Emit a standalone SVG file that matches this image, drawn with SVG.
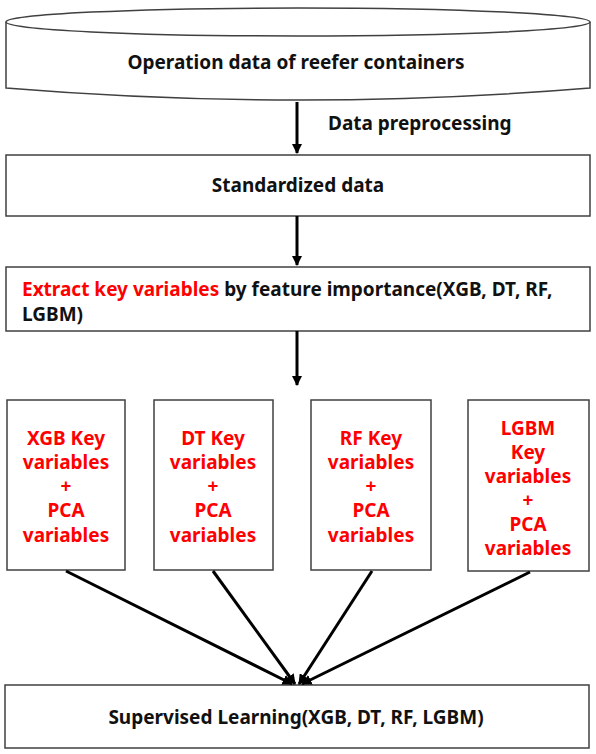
<svg xmlns="http://www.w3.org/2000/svg" width="596" height="754" viewBox="0 0 596 754">
<style>
.box{fill:#fff;stroke:#404040;stroke-width:1.5}
.t{font-family:"Noto Sans","Liberation Sans",sans-serif;font-weight:bold;font-size:19px;fill:#111;text-anchor:middle}
.r{fill:#ff0000}
.c{stroke:#000;stroke-width:3;fill:none;marker-end:url(#ah)}
</style>
<defs>
<marker id="ah" viewBox="0 0 10 10" refX="9" refY="5" markerWidth="3.5" markerHeight="3.5" orient="auto" markerUnits="strokeWidth">
<path d="M0,0 L10,5 L0,10 z" fill="#000"/>
</marker>
</defs>
<rect width="596" height="754" fill="#fff"/>
<g id="n1">
<path class="box" d="M6,22 L6,88 Q298,112 590,88 L590,22"/>
<ellipse class="box" cx="298" cy="22" rx="292" ry="14"/>
<text class="t" x="296" y="69">Operation data of reefer containers</text>
</g>
<g id="n2">
<rect class="box" x="6" y="155" width="584" height="61"/>
<text class="t" x="298" y="192">Standardized data</text>
</g>
<g id="n3">
<rect class="box" x="6" y="267" width="584" height="64"/>
<text class="t" x="22" y="296" style="text-anchor:start"><tspan class="r">Extract key variables</tspan> by feature importance(XGB, DT, RF,</text>
<text class="t" x="22" y="321" style="text-anchor:start">LGBM)</text>
</g>
<g id="n4">
<rect class="box" x="7" y="400" width="118" height="170"/>
<text class="t r" x="66" y="445">XGB Key</text>
<text class="t r" x="66" y="469">variables</text>
<text class="t r" x="66" y="493">+</text>
<text class="t r" x="66" y="517">PCA</text>
<text class="t r" x="66" y="542">variables</text>
</g>
<g id="n5">
<rect class="box" x="154" y="400" width="119" height="170"/>
<text class="t r" x="213" y="445">DT Key</text>
<text class="t r" x="213" y="469">variables</text>
<text class="t r" x="213" y="493">+</text>
<text class="t r" x="213" y="517">PCA</text>
<text class="t r" x="213" y="542">variables</text>
</g>
<g id="n6">
<rect class="box" x="311" y="400" width="120" height="170"/>
<text class="t r" x="371" y="445">RF Key</text>
<text class="t r" x="371" y="469">variables</text>
<text class="t r" x="371" y="493">+</text>
<text class="t r" x="371" y="517">PCA</text>
<text class="t r" x="371" y="542">variables</text>
</g>
<g id="n7">
<rect class="box" x="468" y="400" width="121" height="171"/>
<text class="t r" x="528" y="435">LGBM</text>
<text class="t r" x="528" y="459">Key</text>
<text class="t r" x="528" y="483">variables</text>
<text class="t r" x="528" y="507">+</text>
<text class="t r" x="528" y="531">PCA</text>
<text class="t r" x="528" y="555">variables</text>
</g>
<g id="n8">
<rect class="box" x="5" y="685" width="584" height="63"/>
<text class="t" x="296" y="724">Supervised Learning(XGB, DT, RF, LGBM)</text>
</g>
<g id="connectors">
<line class="c" x1="297" y1="102" x2="297" y2="153"/>
<text class="t" x="328" y="130" style="text-anchor:start">Data preprocessing</text>
<line class="c" x1="297" y1="216" x2="297" y2="265"/>
<line class="c" x1="297" y1="331" x2="297" y2="385"/>
<line class="c" x1="66" y1="571" x2="292" y2="684"/>
<line class="c" x1="213" y1="571" x2="295" y2="684"/>
<line class="c" x1="372" y1="571" x2="299" y2="684"/>
<line class="c" x1="530" y1="572" x2="302" y2="684"/>
</g>
</svg>
